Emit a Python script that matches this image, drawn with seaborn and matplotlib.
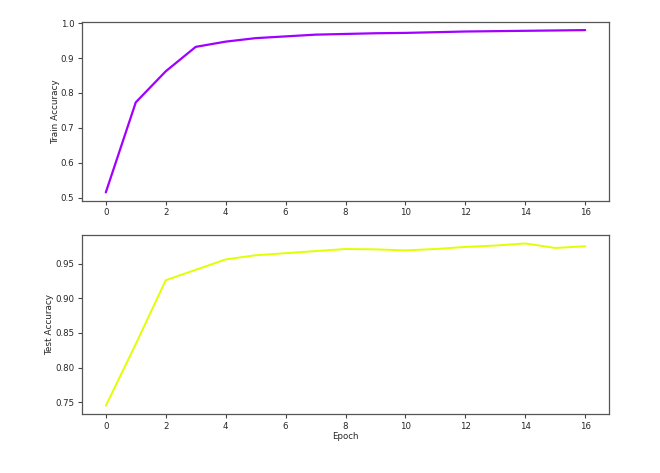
import numpy as np
import pandas as pd
import matplotlib
matplotlib.use('Agg')
import matplotlib.pyplot as plt
import seaborn as sns

# Epoch verileri
epochs = list(range(17))
train_acc = [0.515, 0.773, 0.862, 0.932, 0.947, 0.957, 0.962, 0.967, 0.969,
             0.971, 0.972, 0.974, 0.976, 0.977, 0.978, 0.979, 0.980]
test_acc = [0.745, 0.834, 0.926, 0.941, 0.956, 0.962, 0.965, 0.968, 0.971,
            0.9705, 0.969, 0.971, 0.974, 0.976, 0.979, 0.9725, 0.975]

train_color = '#a000ff'
test_color = '#e2ff00'

df = pd.DataFrame({'Epoch': epochs, 'Train Accuracy': train_acc, 'Test Accuracy': test_acc})

sns.set_style('ticks')
plt.rcParams['font.family'] = ['DejaVu Sans']

fig, (ax1, ax2) = plt.subplots(2, 1, figsize=(6.6, 4.73), dpi=100)
fig.subplots_adjust(left=0.124, right=0.923, top=0.9535, bottom=0.125, hspace=0.195)

sns.lineplot(data=df, x='Epoch', y='Train Accuracy', color=train_color, linewidth=1.6, ax=ax1)
sns.lineplot(data=df, x='Epoch', y='Test Accuracy', color=test_color, linewidth=1.4, ax=ax2)

for ax in (ax1, ax2):
    ax.set_xticks(np.arange(0, 17, 2))
    ax.tick_params(labelsize=6.2, length=3, width=0.8, color='#444444', pad=2.5)
    for sp in ax.spines.values():
        sp.set_color('#555555')
        sp.set_linewidth(0.9)
        sp.set_visible(True)

ax1.set_xlabel('')
ax1.set_ylabel('Train Accuracy', fontsize=6.4, labelpad=0.5)
ax2.set_ylabel('Test Accuracy', fontsize=6.4, labelpad=0.5)
ax2.set_xlabel('Epoch', fontsize=6.2, labelpad=1)
ax1.set_yticks([0.5, 0.6, 0.7, 0.8, 0.9, 1.0])
ax2.set_yticks([0.75, 0.80, 0.85, 0.90, 0.95])

plt.savefig('out.png', dpi=100)
plt.close()
